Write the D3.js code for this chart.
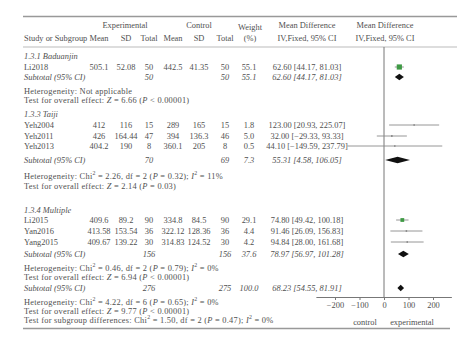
<!DOCTYPE html>
<html><head><meta charset="utf-8">
<script src="https://cdn.jsdelivr.net/npm/d3@7"></script>
<style>body{margin:0;background:#fff}svg{display:block}</style>
</head><body><svg id="c" width="474" height="348"></svg>
<script>
// ---------- data ----------
const studies = ["Li2018","Yeh2004","Yeh2011","Yeh2013","Li2015","Yan2016","Yang2015"];
const studyGroup = [0,1,1,1,2,2,2];
const expMean = ["505.1","412","426","404.2","409.6","413.58","409.67"];
const expSD = ["52.08","116","164.44","190","89.2","153.54","139.22"];
const expN = [50,15,47,8,90,36,30];
const ctlMean = ["442.5","289","394","360.1","334.8","322.12","314.83"];
const ctlSD = ["41.35","165","136.3","205","84.5","128.36","124.52"];
const ctlN = [50,15,46,8,90,36,30];
const weight = [55.1,1.8,5.0,0.5,29.1,4.4,4.2];
const md = [62.60,123.00,32.00,44.10,74.80,91.46,94.84];
const lo = [44.17,20.93,-29.33,-149.59,49.42,26.09,28.00];
const hi = [81.03,225.07,93.33,237.79,100.18,156.83,161.68];

const groupNames = ["1.3.1 Baduanjin","1.3.3 Taiji","1.3.4 Multiple"];
const subExpN = [50,70,156];
const subCtlN = [50,69,156];
const subWeight = [55.1,7.3,37.6];
const subMd = [62.60,55.31,78.97];
const subLo = [44.17,4.58,56.97];
const subHi = [81.03,106.05,101.28];
// heterogeneity: null => "Not applicable", else [chi2, df, P, I2]
const subHet = [null,["2.26","2","0.32","11%"],["0.46","2","0.79","0%"]];
const subZ = [["6.66","< 0.00001"],["2.14","= 0.03"],["6.94","< 0.00001"]];

const totExpN = 276, totCtlN = 275, totWeight = 100.0;
const totMd = 68.23, totLo = 54.55, totHi = 81.91;
const totHet = ["4.22","6","0.65","0%"];
const totZ = ["9.77","< 0.00001"];
const subDiff = ["1.50","2","0.47","0%"];

const axisTicks = [-200,-100,0,100,200];
const axisLabels = ["control","experimental"];

// ---------- layout ----------
const svg = d3.select("#c");
const FONT = "'Liberation Serif','DejaVu Serif',serif";
const FS = 8.4;
const TXT = "#505050";
const col = {label:24, eMean:99, eSD:126, eN:149, cMean:173, cSD:199, cN:225, w:249, ci:307};
const x = d3.scaleLinear().domain([-200,200]).range([335,433]);
const axisY = 297, topY = 47;

// row y positions
const studyY = [67,125,136,146,220,231,242];
const groupHeadY = [56,114,210];
const subY = [77,160,254];
const hetY = [91,176,268];
const testY = [100,186,277];
const totY = 288, totHetY = 302, totTestY = 310.5, diffY = 319.5;

function text(xp, yp, s, opt={}) {
  return svg.append("text").attr("x", xp).attr("y", yp)
    .attr("font-family", FONT).attr("font-size", opt.fs || FS)
    .attr("fill", opt.fill || TXT)
    .attr("font-style", opt.italic ? "italic" : null)
    .attr("text-anchor", opt.anchor || "middle")
    .attr("dominant-baseline", "central")
    .text(s);
}
// segments: [string, style] style: "i" italic, "s" superscript
function rich(xp, yp, segs) {
  const t = svg.append("text").attr("x", xp).attr("y", yp)
    .attr("font-family", FONT).attr("font-size", FS).attr("fill", TXT)
    .attr("dominant-baseline", "central")
    .attr("letter-spacing", 0.25);
  let prevSup = false;
  segs.forEach(([s, st]) => {
    const ts = t.append("tspan").text(s);
    if (st === "i") ts.attr("font-style", "italic");
    if (st === "s") { ts.attr("font-size", FS*0.7).attr("dy", -3); prevSup = true; }
    else if (prevSup) { ts.attr("dy", 3); prevSup = false; }
  });
  return t;
}
function hetText(yp, h) {
  if (!h) { rich(col.label, yp, [["Heterogeneity: Not applicable"]]); return; }
  rich(col.label, yp, [["Heterogeneity: Chi"],["2","s"],[" = "+h[0]+", df = "+h[1]+" ("],["P","i"],[" = "+h[2]+"); "],["I","i"],["2","s"],[" = "+h[3]]]);
}
function testText(yp, z) {
  rich(col.label, yp, [["Test for overall effect: "],["Z","i"],[" = "+z[0]+" ("],["P","i"],[" "+z[1]+")"]]);
}
const f2 = d3.format(".2f"), f1 = d3.format(".1f");
const ciStr = (m,l,h) => f2(m)+" ["+f2(l)+", "+f2(h)+"]";

// rules
svg.append("line").attr("x1",23).attr("x2",457).attr("y1",16.5).attr("y2",16.5).attr("stroke","#999").attr("stroke-width",1.5);
svg.append("line").attr("x1",23).attr("x2",457).attr("y1",topY).attr("y2",topY).attr("stroke","#bbb").attr("stroke-width",1);
svg.append("line").attr("x1",23).attr("x2",450).attr("y1",328.5).attr("y2",328.5).attr("stroke","#999").attr("stroke-width",1.5);

// headers
text(125,25,"Experimental"); text(199,25,"Control");
text(250,27,"Weight"); text(250,38,"(%)");
text(307,25,"Mean Difference"); text(307,38,"IV,Fixed, 95% CI");
text(385,25,"Mean Difference"); text(385,38,"IV,Fixed, 95% CI");
text(col.label,38,"Study or Subgroup",{anchor:"start"});
[["Mean",col.eMean],["SD",col.eSD],["Total",col.eN],["Mean",col.cMean],["SD",col.cSD],["Total",col.cN]]
  .forEach(([s,xp]) => text(xp,38,s));

// zero line
svg.append("line").attr("x1",x(0)).attr("x2",x(0)).attr("y1",topY).attr("y2",axisY).attr("stroke","#777").attr("stroke-width",1);

// group headers
groupNames.forEach((g,i) => text(col.label, groupHeadY[i], g, {anchor:"start", italic:true}));

// studies
studies.forEach((s,i) => {
  const yp = studyY[i];
  text(col.label, yp, s, {anchor:"start"});
  text(col.eMean, yp, expMean[i]); text(col.eSD, yp, expSD[i]); text(col.eN, yp, expN[i]);
  text(col.cMean, yp, ctlMean[i]); text(col.cSD, yp, ctlSD[i]); text(col.cN, yp, ctlN[i]);
  text(col.w, yp, f1(weight[i]));
  text(col.ci, yp, ciStr(md[i],lo[i],hi[i]));
  svg.append("line").attr("x1",x(lo[i])).attr("x2",x(hi[i])).attr("y1",yp).attr("y2",yp)
    .attr("stroke","#8a8a8a").attr("stroke-width",0.9);
  const sz = Math.max(1.4, Math.sqrt(weight[i])*0.7);
  svg.append("rect").attr("x",x(md[i])-sz/2).attr("y",yp-sz/2).attr("width",sz).attr("height",sz)
    .attr("fill", weight[i] > 10 ? "#3f9a45" : "#7a7a7a");
});

function diamond(yp, m, l, h) {
  const hh = 3.2;
  svg.append("path").attr("d",
    `M${x(l)},${yp} L${x(m)},${yp-hh} L${x(h)},${yp} L${x(m)},${yp+hh} Z`).attr("fill","#111");
}

// subtotals
groupNames.forEach((g,i) => {
  const yp = subY[i];
  text(col.label, yp, "Subtotal (95% CI)", {anchor:"start", italic:true});
  text(col.eN, yp, subExpN[i], {italic:true});
  text(col.cN, yp, subCtlN[i], {italic:true});
  text(col.w, yp, f1(subWeight[i]), {italic:true});
  text(col.ci, yp, ciStr(subMd[i],subLo[i],subHi[i]), {italic:true});
  diamond(yp, subMd[i], subLo[i], subHi[i]);
  hetText(hetY[i], subHet[i]);
  testText(testY[i], subZ[i]);
});

// total
text(col.label, totY, "Subtotal (95% CI)", {anchor:"start", italic:true});
text(col.eN, totY, totExpN, {italic:true});
text(col.cN, totY, totCtlN, {italic:true});
text(col.w, totY, f1(totWeight), {italic:true});
text(col.ci, totY, ciStr(totMd,totLo,totHi), {italic:true});
diamond(totY, totMd, totLo, totHi);
hetText(totHetY, totHet);
testText(totTestY, totZ);
rich(col.label, diffY, [["Test for subgroup differences: Chi"],["2","s"],[" = "+subDiff[0]+", df = "+subDiff[1]+" ("],["P","i"],[" = "+subDiff[2]+"); "],["I","i"],["2","s"],[" = "+subDiff[3]]]);

// axis
const xa = d3.scaleLinear().domain([-278,275]).range([x(-278), x(275)]);
const ag = svg.append("g").attr("transform",`translate(0,${axisY})`)
  .call(d3.axisBottom(xa).tickValues(axisTicks).tickSize(3).tickSizeOuter(0).tickFormat(d3.format("d")));
ag.select(".domain").attr("stroke","#777");
ag.selectAll(".tick line").attr("stroke","#777");
ag.selectAll(".tick text").attr("font-family",FONT).attr("font-size",FS).attr("fill",TXT).attr("dy","0.6em");
text(365, 322, axisLabels[0]);
text(412, 322, axisLabels[1]);
</script></body></html>
